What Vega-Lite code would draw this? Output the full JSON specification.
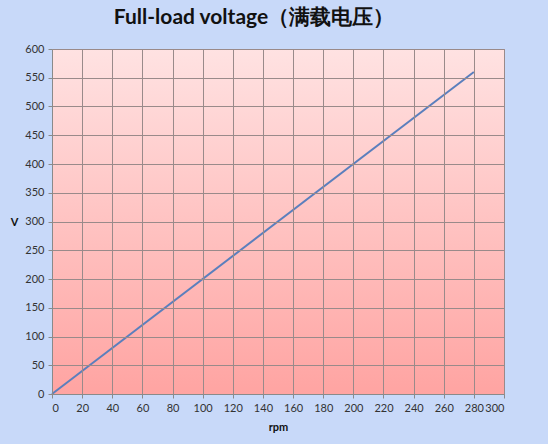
{
  "$schema": "https://vega.github.io/schema/vega-lite/v6.json",
  "width": 452,
  "height": 345,
  "autosize": {"type": "none"},
  "padding": {"left": 52, "top": 49, "right": 44, "bottom": 50},
  "background": "#c8d9f9",
  "title": {
    "text": "Full-load voltage（满载电压）",
    "font": "Lato",
    "fontSize": 21,
    "fontWeight": "bold",
    "color": "#111111",
    "anchor": "middle",
    "dx": -24,
    "offset": 15
  },
  "config": {
    "view": {"stroke": "#c07070", "strokeWidth": 1},
    "axis": {
      "labelFont": "Lato",
      "labelFontSize": 11,
      "labelColor": "#333333",
      "labelOverlap": false,
      "titleFont": "Lato",
      "titleFontSize": 11,
      "titleFontWeight": "bold",
      "titleColor": "#111111",
      "grid": true,
      "gridColor": "#9a8a8a",
      "gridOpacity": 1,
      "gridWidth": 1,
      "tickColor": "#8a8a8a",
      "tickSize": 4,
      "domainColor": "#8a8a8a",
      "zindex": 0
    }
  },
  "data": {
    "values": [
      {"rpm": 0, "V": 0},
      {"rpm": 280, "V": 560}
    ]
  },
  "encoding": {
    "x": {
      "type": "quantitative",
      "title": "rpm",
      "scale": {"domain": [0, 300], "nice": false},
      "axis": {"values": [0,20,40,60,80,100,120,140,160,180,200,220,240,260,280,300], "titlePadding": 8, "labelPadding": 4, "zindex": 1}
    },
    "y": {
      "type": "quantitative",
      "title": "V",
      "scale": {"domain": [0, 600], "nice": false},
      "axis": {"values": [0,50,100,150,200,250,300,350,400,450,500,550,600], "titleAngle": 0, "titleX": -38, "titleY": 178, "labelPadding": 4, "zindex": 1}
    }
  },
  "layer": [
    {
      "mark": {
        "type": "rect",
        "color": {
          "gradient": "linear",
          "x1": 0, "y1": 0, "x2": 0, "y2": 1,
          "stops": [
            {"offset": 0, "color": "#ffe2e2"},
            {"offset": 1, "color": "#ffa4a2"}
          ]
        }
      },
      "encoding": {
        "x": {"datum": 0, "type": "quantitative"},
        "x2": {"datum": 300},
        "y": {"datum": 0, "type": "quantitative"},
        "y2": {"datum": 600}
      }
    },
    {
      "mark": {"type": "line", "color": "#5b7fbd", "strokeWidth": 2, "zindex": 2},
      "encoding": {
        "x": {"field": "rpm", "type": "quantitative"},
        "y": {"field": "V", "type": "quantitative"}
      }
    }
  ]
}
